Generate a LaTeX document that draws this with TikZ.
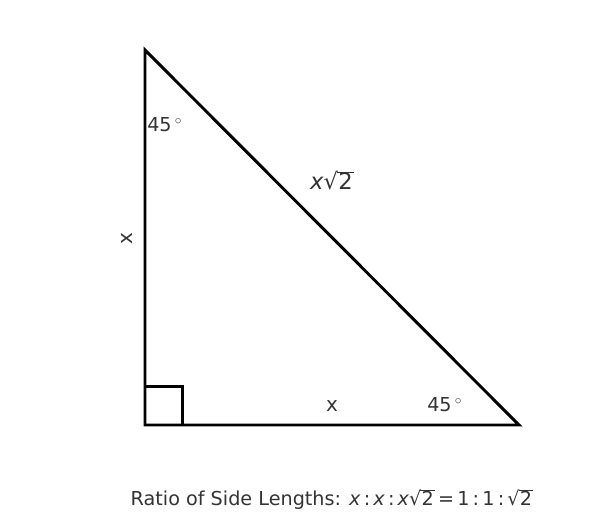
\documentclass[tikz,border=0pt]{standalone}
\usepackage{fontspec}
\setmainfont{DejaVu Sans}
\newfontfamily\djit{DejaVu Sans Oblique}
\definecolor{txt}{RGB}{51,51,51}
\newcommand\myrt[1]{\setbox1\hbox{√}\setbox0\hbox{\kern0.8pt#1\kern0.8pt}√\kern-0.6pt\rlap{\raisebox{\dimexpr\ht1-0.06em\relax}{\rule{\wd0}{0.06em}}}\box0}
\begin{document}
\begin{tikzpicture}[x=0.75pt,y=-0.75pt,
  lbl/.style={text=txt,inner sep=0pt,font=\fontsize{14.4}{16}\selectfont},
  side/.style={line width=2.2pt,line join=miter}]
\useasboundingbox (0,0) rectangle (594,524);
\coordinate (A) at (145,50);
\coordinate (B) at (145,425);
\coordinate (C) at (519,425);
\draw[side] (A) -- (B) -- (C) -- cycle;
\draw[side,line width=2.25pt] (145,387) coordinate (s1) -- (182,387) coordinate (s2) -- (182,425) coordinate (s3);
\node[lbl,anchor=west] (a1) at (147,125) {45\,$^{\circ}$};
\node[lbl,anchor=west] (a2) at (427,405) {45\,$^{\circ}$};
\node[lbl,font=\fontsize{17}{19}\selectfont] (h) at (332,181) {{\djit x}\myrt{2}};
\node[lbl,rotate=90,font=\fontsize{15}{17}\selectfont] (l1) at (127,239) {x};
\node[lbl,font=\fontsize{15}{17}\selectfont] (l2) at (332,406) {x};
\node[lbl] (r) at (332,500) {Ratio of Side Lengths: {\djit x}\,:\,{\djit x}\,:\,{\djit x}\myrt{2}\,=\,1\,:\,1\,:\,\myrt{2}};
\end{tikzpicture}
\end{document}
